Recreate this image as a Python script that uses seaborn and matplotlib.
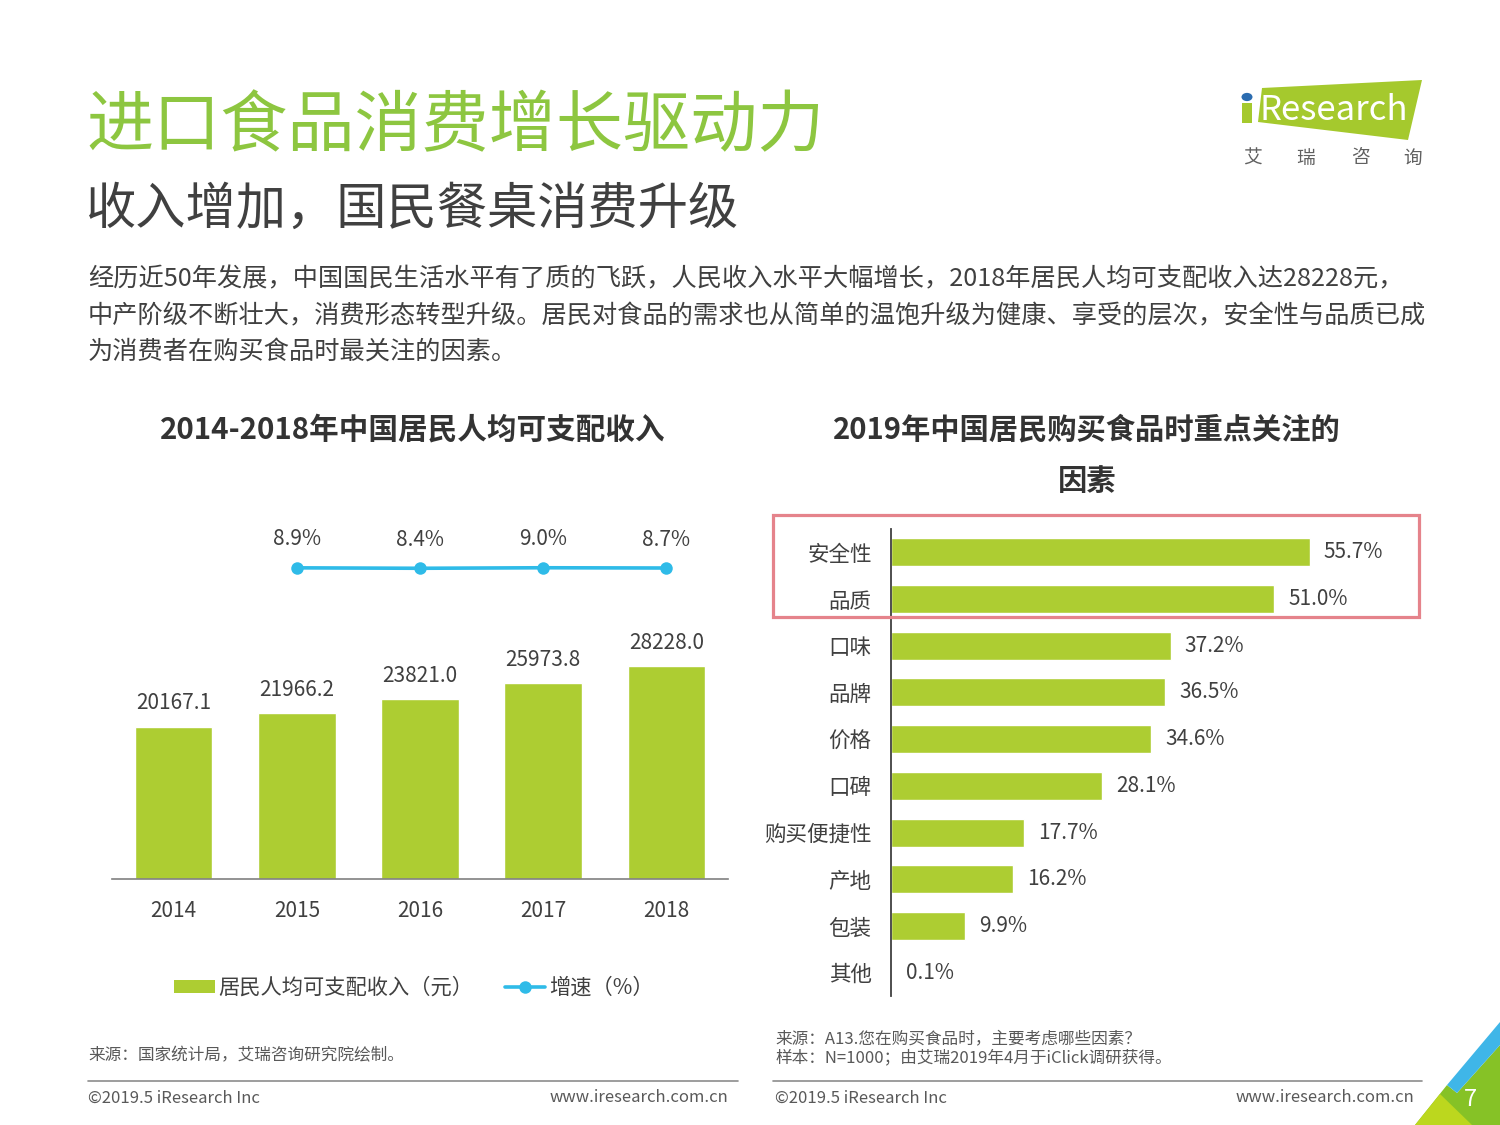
import matplotlib
matplotlib.use('Agg')
import matplotlib.pyplot as plt
import seaborn as sns
import pandas as pd
from matplotlib.patches import Rectangle, Polygon, Patch, Circle
from matplotlib.lines import Line2D

# ---------------- data ----------------
years = ['2014', '2015', '2016', '2017', '2018']
income = [20167.1, 21966.2, 23821.0, 25973.8, 28228.0]
growth_years = ['2015', '2016', '2017', '2018']
growth = [8.9, 8.4, 9.0, 8.7]
factors = ['安全性', '品质', '口味', '品牌', '价格', '口碑', '购买便捷性', '产地', '包装', '其他']
shares = [55.7, 51.0, 37.2, 36.5, 34.6, 28.1, 17.7, 16.2, 9.9, 0.1]

title_main = '进口食品消费增长驱动力'
title_sub = '收入增加，国民餐桌消费升级'
paragraph = [
    '经历近50年发展，中国国民生活水平有了质的飞跃，人民收入水平大幅增长，2018年居民人均可支配收入达28228元，',
    '中产阶级不断壮大，消费形态转型升级。居民对食品的需求也从简单的温饱升级为健康、享受的层次，安全性与品质已成',
    '为消费者在购买食品时最关注的因素。',
]
left_title = '2014-2018年中国居民人均可支配收入'
right_title = ['2019年中国居民购买食品时重点关注的', '因素']
legend_labels = ['居民人均可支配收入（元）', '增速（%）']

# ---------------- style ----------------
sns.set_theme(style='white')
plt.rcParams['font.family'] = ['Noto Sans CJK SC', 'DejaVu Sans']

GREEN = '#ADCD32'
TITLE_GREEN = '#8DC640'
BLUE = '#2FBBE8'
TXT = '#404040'
FOOT = '#595959'

W, H = 1500, 1125
fig = plt.figure(figsize=(15, 11.25), dpi=100)
fig.patch.set_facecolor('white')


def fx(x):
    return x / W


def fy(y):
    return 1 - y / H


def rect(l, t, r, b):
    return [fx(l), fy(b), fx(r) - fx(l), fy(t) - fy(b)]


# ---------------- header ----------------
fig.text(fx(86), fy(128), title_main, fontsize=48.3, color=TITLE_GREEN, ha='left', va='center')
fig.text(fx(86), fy(210), title_sub, fontsize=36.2, color=TXT, ha='left', va='center')
for i, line in enumerate(paragraph):
    fig.text(fx(88), fy(279 + 37 * i), line, fontsize=18.15, color=TXT, ha='left', va='center')

# logo
fig.add_artist(Polygon([(fx(1262), fy(88)), (fx(1422), fy(80)), (fx(1408), fy(140)), (fx(1258), fy(122))],
                       closed=True, facecolor='#A5C92D', edgecolor='none', transform=fig.transFigure))
fig.add_artist(Rectangle((fx(1242), fy(123)), fx(10), 20 / H, facecolor='#A5C92D', edgecolor='none',
                         transform=fig.transFigure))
fig.add_artist(Circle((fx(1247), fy(97)), 5.5 / W, facecolor='#2B6CB0', edgecolor='none',
                      transform=fig.transFigure))
fig.text(fx(1334), fy(111), 'Research', fontsize=25, color='white', ha='center', va='center')
for ch, x in zip('艾瑞咨询', [1252, 1306, 1360, 1413]):
    fig.text(fx(x), fy(158), ch, fontsize=13.5, color='#606060', ha='center', va='center')

# ---------------- left chart ----------------
ax1 = fig.add_axes(rect(112, 520, 728, 879))
sns.barplot(x=years, y=income, color=GREEN, saturation=1, width=0.63, ax=ax1)
ax1.set_xlim(-0.5, 4.5)
ax1.set_ylim(0, 47613)
for s in ['left', 'top', 'right']:
    ax1.spines[s].set_visible(False)
ax1.spines['bottom'].set_color('#808080')
ax1.spines['bottom'].set_linewidth(1.2)
ax1.set_yticks([])
ax1.set_xlabel('')
ax1.set_ylabel('')
ax1.tick_params(axis='x', length=0, pad=15, labelsize=15, labelcolor=TXT)
ax1.bar_label(ax1.containers[0], labels=[f'{v:.1f}' for v in income], padding=9, fontsize=15, color=TXT)
ax1.patch.set_alpha(0)

ax2 = ax1.twinx()
gx = [years.index(y) for y in growth_years]
sns.lineplot(x=gx, y=growth, ax=ax2, color=BLUE, linewidth=2.6, marker='o', markersize=9,
             markeredgewidth=0)
ax2.set_xlim(-0.5, 4.5)
ax2.set_ylim(-337.8, 62.2)
for s in ax2.spines.values():
    s.set_visible(False)
ax2.set_yticks([])
ax2.set_ylabel('')
for x, v in zip(gx, growth):
    ax2.annotate(f'{v:.1f}%', (x, v), xytext=(0, 20.5), textcoords='offset points',
                 ha='center', va='center', fontsize=15, color=TXT)

fig.text(fx(413), fy(430), left_title, fontsize=21.3, fontweight='bold', color='#333333',
         ha='center', va='center')

handles = [Patch(facecolor=GREEN, edgecolor='none', label=legend_labels[0]),
           Line2D([0], [0], color=BLUE, lw=2.6, marker='o', markersize=9, markeredgewidth=0,
                  label=legend_labels[1])]
fig.legend(handles=handles, loc='center', bbox_to_anchor=(fx(414), fy(988)), ncol=2, frameon=False,
           fontsize=15.3, handlelength=1.9, handleheight=0.5, handletextpad=0.2, columnspacing=1.45,
           labelcolor=TXT)

# ---------------- right chart ----------------
ax3 = fig.add_axes(rect(891, 529, 1420, 996))
df = pd.DataFrame({'factor': factors, 'share': shares})
sns.barplot(data=df, y='factor', x='share', color=GREEN, saturation=1, width=0.6, orient='h', ax=ax3)
ax3.set_xlim(0, 70.35)
for s in ['bottom', 'top', 'right']:
    ax3.spines[s].set_visible(False)
ax3.spines['left'].set_color('#404040')
ax3.spines['left'].set_linewidth(1.3)
ax3.set_xticks([])
ax3.set_xlabel('')
ax3.set_ylabel('')
ax3.tick_params(axis='y', length=0, pad=14, labelsize=15.5, labelcolor=TXT)
ax3.bar_label(ax3.containers[0], labels=[f'{v:.1f}%' for v in shares], padding=10, fontsize=15, color=TXT)
ax3.patch.set_alpha(0)

fig.text(fx(1087), fy(430), right_title[0], fontsize=21.1, fontweight='bold', color='#333333',
         ha='center', va='center')
fig.text(fx(1087), fy(481), right_title[1], fontsize=21.1, fontweight='bold', color='#333333',
         ha='center', va='center')

fig.add_artist(Rectangle((fx(773), fy(617)), fx(1419) - fx(773), fy(515) - fy(617), fill=False,
                         edgecolor='#E5838B', linewidth=2.3, transform=fig.transFigure))

# ---------------- footer ----------------
fig.text(fx(88), fy(1056), '来源：国家统计局，艾瑞咨询研究院绘制。', fontsize=12, color=FOOT, ha='left', va='center')
fig.text(fx(775), fy(1039), '来源：A13.您在购买食品时，主要考虑哪些因素？', fontsize=12, color=FOOT, ha='left', va='center')
fig.text(fx(775), fy(1058), '样本：N=1000；由艾瑞2019年4月于iClick调研获得。', fontsize=12, color=FOOT, ha='left', va='center')

for x0, x1 in [(88, 738), (773, 1422)]:
    fig.add_artist(Line2D([fx(x0), fx(x1)], [fy(1081), fy(1081)], color='#8C8C8C', lw=1.2,
                          transform=fig.transFigure))
fig.text(fx(88), fy(1098), '©2019.5 iResearch Inc', fontsize=12, color=FOOT, ha='left', va='center')
fig.text(fx(728), fy(1098), 'www.iresearch.com.cn', fontsize=12, color=FOOT, ha='right', va='center')
fig.text(fx(775), fy(1098), '©2019.5 iResearch Inc', fontsize=12, color=FOOT, ha='left', va='center')
fig.text(fx(1414), fy(1098), 'www.iresearch.com.cn', fontsize=12, color=FOOT, ha='right', va='center')

# corner decoration
fig.add_artist(Polygon([(fx(1415), fy(1125)), (fx(1447), fy(1085)), (fx(1457), fy(1093)),
                        (fx(1500), fy(1045)), (fx(1500), fy(1125))], closed=True,
                       facecolor='#86C226', edgecolor='none', transform=fig.transFigure))
fig.add_artist(Polygon([(fx(1415), fy(1125)), (fx(1440), fy(1094)), (fx(1472), fy(1125))], closed=True,
                       facecolor='#BCD71E', edgecolor='none', transform=fig.transFigure))
fig.add_artist(Polygon([(fx(1447), fy(1085)), (fx(1500), fy(1022)), (fx(1500), fy(1045)),
                        (fx(1457), fy(1093))], closed=True,
                       facecolor='#3FB6E8', edgecolor='none', transform=fig.transFigure))
fig.text(fx(1470), fy(1099), '7', fontsize=17, color='white', ha='center', va='center')

fig.savefig('out.png', dpi=100, facecolor='white')
